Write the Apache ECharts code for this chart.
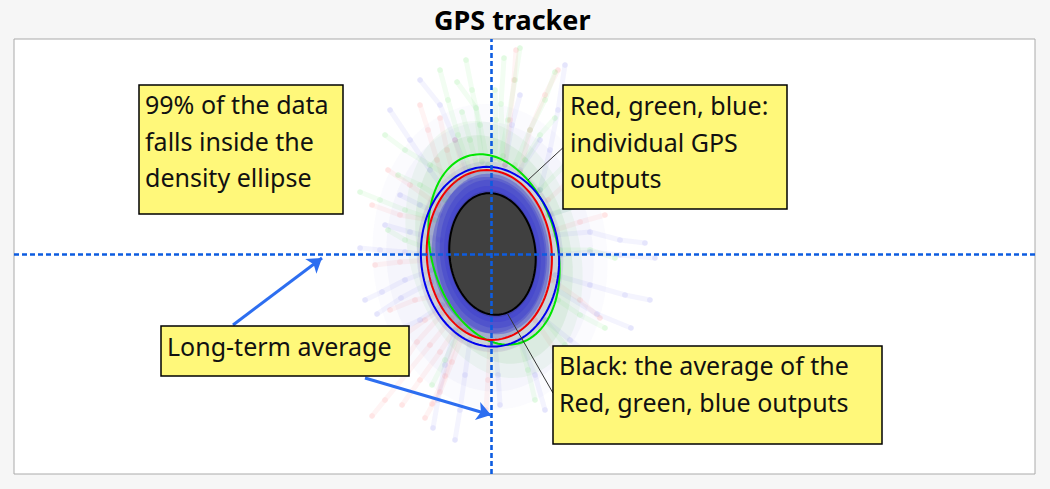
<!DOCTYPE html>
<html><head><meta charset="utf-8">
<script src="https://cdn.jsdelivr.net/npm/echarts@6/dist/echarts.min.js"></script>
<style>html,body{margin:0;padding:0;background:#f6f6f6;} #c{width:1050px;height:489px;}</style>
</head><body><div id="c"></div>
<script>
// ---- data (offsets from the long-term average, arbitrary units) ----
const redTracks = [
  [[-3.9,-6.4],[-6.1,-9.1],[-8.3,-11.8],[-10.6,-14.6],[-11.9,-16.2]],
  [[-3.3,-7.1],[-5.1,-9.8],[-7.1,-12.6],[-8.9,-15.1]],
  [[-4.4,-5.1],[-6.6,-6.6],[-9.1,-8.4],[-11.3,-9.8]],
  [[-2.6,-7.6],[-3.9,-10.8],[-5.1,-13.8],[-6.6,-16.4]],
  [[-5.1,-4.1],[-7.6,-4.6],[-10.1,-5.6]],
  [[-4.4,6.4],[-5.4,9.4],[-6.3,12.4],[-7.1,14.9]],
  [[-3.6,7.4],[-4.4,10.4],[-5.1,13.6]],
  [[-5.3,4.9],[-8.1,6.9],[-10.3,8.4]],
  [[-6.1,3.4],[-9.1,3.9],[-11.9,4.9]],
  [[2.9,8.2],[3.9,12.4],[5.4,15.9],[6.7,18.4]],
  [[1.4,8.9],[1.9,13.4],[2.3,17.4],[2.5,20.4]],
  [[6.4,2.4],[8.9,3.2],[11.4,3.9]],
  [[6.1,-2.6],[8.9,-4.6],[10.9,-6.4]],
  [[4.4,-6.6],[6.4,-9.6],[7.9,-12.1]],
  [[-6.1,-0.6],[-9.1,-0.8],[-11.6,-1.1]],
  [[-2.6,7.9],[-3.6,11.4]],
  [[5.7,5.4],[7.9,7.4],[9.9,9.4]],
  [[-0.1,-9.1],[-0.3,-12.6],[-0.5,-15.6]],
  [[-4.9,-6.0],[-7.4,-8.8],[-9.6,-12.0]],
  [[-3.0,-6.9],[-4.6,-12.2],[-5.9,-15.0]]
];
const greenTracks = [
  [[-0.3,8.9],[-1.1,12.9],[-1.9,16.4],[-2.5,19.4]],
  [[0.9,9.4],[1.7,13.4],[2.4,17.4],[2.9,20.6]],
  [[2.4,8.9],[3.9,12.4],[5.4,15.4],[6.4,18.2]],
  [[-2.1,8.4],[-3.3,11.9],[-4.3,15.4],[-5.1,18.4]],
  [[-3.6,7.4],[-6.1,8.9],[-8.6,10.4],[-10.6,11.9]],
  [[-5.6,3.4],[-8.6,4.4],[-11.1,5.4],[-13.1,6.2]],
  [[-5.9,0.4],[-8.6,1.4],[-10.3,2.4]],
  [[6.7,-4.6],[8.9,-6.1],[11.4,-7.4]],
  [[5.4,-6.6],[7.4,-9.1],[8.9,-11.4]],
  [[2.9,-8.6],[3.7,-11.6],[4.4,-14.6]],
  [[6.9,0.4],[9.9,0.4],[12.4,-0.4]],
  [[4.9,6.4],[7.4,8.9],[9.4,11.4]],
  [[-1.3,8.4],[-2.1,11.4],[-2.9,14.2]],
  [[-3.1,-7.6],[-4.6,-10.6],[-5.9,-13.1]],
  [[5.7,3.9],[8.9,4.9],[11.9,5.9]],
  [[3.4,9.4],[4.9,11.9],[6.4,13.6]],
  [[0.4,9.6],[0.5,13.4],[0.4,16.4]],
  [[-4.6,5.4],[-7.1,6.9],[-9.3,7.9]],
  [[1.2,9.8],[1.0,15.0],[1.3,19.6]],
  [[-0.9,9.2],[-1.5,14.6],[-3.4,17.2]]
];
const blueTracks = [
  [[-6.1,-0.1],[-8.6,0.2],[-11.1,0.4],[-13.1,0.6]],
  [[-5.9,-1.6],[-8.6,-2.6],[-10.9,-3.8],[-12.6,-4.6]],
  [[-5.1,3.9],[-7.1,4.9],[-9.1,5.9]],
  [[-4.3,5.9],[-6.1,8.4],[-8.1,11.4],[-10.1,14.4]],
  [[-2.1,7.4],[-3.6,11.4],[-5.1,14.9],[-7.1,17.4]],
  [[6.9,-0.1],[9.9,0.2],[12.9,-0.1],[16.4,-0.4]],
  [[6.4,-2.1],[9.9,-3.1],[13.4,-4.1],[15.9,-4.6]],
  [[6.4,1.9],[9.9,2.2],[12.9,1.4],[15.4,1.1]],
  [[5.9,3.9],[8.9,4.9],[11.4,5.4]],
  [[4.9,6.4],[5.9,10.4],[6.7,14.4],[7.4,18.9]],
  [[-3.6,-7.6],[-4.6,-11.1],[-5.3,-14.6],[-5.8,-17.4]],
  [[0.4,-9.1],[0.7,-12.1],[0.9,-15.1]],
  [[-2.1,-8.6],[-2.6,-12.1],[-3.1,-15.6],[-3.6,-18.6]],
  [[2.9,-8.6],[4.4,-12.1],[5.4,-15.6]],
  [[5.4,-6.6],[7.9,-8.6],[9.9,-10.1]],
  [[-4.9,-5.1],[-7.1,-6.6],[-9.3,-7.6]],
  [[1.4,8.9],[2.1,12.9],[2.9,15.9]],
  [[-5.1,1.4],[-8.1,2.2],[-10.6,2.9]],
  [[2.9,8.4],[4.9,11.4]],
  [[-6.0,-2.8],[-9.0,-4.4],[-11.4,-6.0]],
  [[6.6,-3.6],[10.6,-6.0],[14.0,-7.4]]
];
// 99% density ellipses: centre, semi-major (vertical), semi-minor, tilt (deg, top leaning left)
const ellipseNames = ['Green','Blue','Red','Black'];
const ellipseCx    = [0.3, -0.1, -0.17, 0.15];
const ellipseCy    = [0.45, -0.27, -0.1, 0];
const ellipseMajor = [9.7, 9.0, 8.5, 6.1];
const ellipseMinor = [6.3, 6.9, 6.25, 4.3];
const ellipseTilt  = [14.5, 4.5, 4, 6];
const longTermAverage = [0, 0];
const arrowStarts = [[-25.8,-7.1], [-12.6,-12.4]];
const arrowEnds   = [[-16.9,-0.4], [0,-16.1]];
const leaderStarts = [[7.17,10.6], [6.2,-13.9]];
const leaderEnds   = [[3.7,7.4], [1.67,-6.0]];
const titleText = 'GPS tracker';
const noteTexts = [
  '99% of the data\nfalls inside the\ndensity ellipse',
  'Red, green, blue:\nindividual GPS\noutputs',
  'Black: the average of the\nRed, green, blue outputs',
  'Long-term average'
];

// ---- styles ----
const trackColors = ['rgb(255,60,60)','rgb(40,215,40)','rgb(60,60,230)'];
const outlineColors = ['#00e600','#0000f0','#f00000','#000000'];
const haloLayers = [
  {e:1, s:1.7,  fill:'rgba(170,170,230,0.05)'},
  {e:1, s:1.5,  fill:'rgba(150,150,225,0.06)'},
  {e:0, s:1.35, fill:'rgba(110,200,110,0.08)'},
  {e:0, s:1.2,  fill:'rgba(90,190,90,0.10)'},
  {e:2, s:1.15, fill:'rgba(210,110,120,0.06)'},
  {e:1, s:1.06, fill:'rgba(110,110,200,0.14)'},
  {e:2, s:0.99, fill:'rgba(80,90,185,0.32)'},
  {e:2, s:0.92, fill:'rgba(62,62,200,0.4)'},
  {e:3, s:1.32, fill:'rgba(58,58,205,0.4)'},
  {e:3, s:1.22, fill:'rgba(58,58,205,0.4)'},
  {e:3, s:1.12, fill:'rgba(58,58,205,0.35)'},
  {e:3, s:1.04, fill:'rgba(60,60,150,0.5)'},
  {e:3, s:1.0,  fill:'#404040'}
];
const boxes = [
  {x:139, y:85,  w:204, h:129, tx:145, ty:86},
  {x:563, y:85,  w:224, h:124, tx:570, ty:87},
  {x:553, y:346, w:329, h:98,  tx:559, ty:347},
  {x:161, y:326, w:248, h:50,  tx:167, ty:328}
];

function ellipseItem(i, s){
  return [ellipseCx[i], ellipseCy[i], ellipseMajor[i]*s, ellipseMinor[i]*s, ellipseTilt[i]];
}
function ellipsePoints(api){
  const cx=api.value(0), cy=api.value(1), A=api.value(2), B=api.value(3), p=api.value(4)*Math.PI/180;
  const pts=[];
  for(let k=0;k<=120;k++){
    const t=k/120*2*Math.PI;
    const x=cx + A*Math.cos(t)*(-Math.sin(p)) + B*Math.sin(t)*Math.cos(p);
    const y=cy + A*Math.cos(t)*Math.cos(p) + B*Math.sin(t)*Math.sin(p);
    pts.push(api.coord([x,y]));
  }
  return pts;
}

const series = [];
[redTracks, greenTracks, blueTracks].forEach((tr, ci)=>{
  series.push({type:'lines', coordinateSystem:'cartesian2d', polyline:true, silent:true,
    data: tr.map(t=>({coords:t})),
    lineStyle:{color:trackColors[ci], width:5, opacity:0.06, cap:'round', join:'round'}});
});
[redTracks, greenTracks, blueTracks].forEach((tr, ci)=>{
  series.push({type:'scatter', silent:true, symbolSize:6,
    data: tr.flat(),
    itemStyle:{color:trackColors[ci], opacity:0.08}});
});
series.push({type:'custom', silent:true, encode:{x:0,y:1},
  data: haloLayers.map(h=>ellipseItem(h.e, h.s)),
  renderItem:(params, api)=>({type:'polygon', shape:{points:ellipsePoints(api)},
    style:{fill:haloLayers[params.dataIndex].fill, stroke:null}})
});
series.push({type:'custom', silent:true, encode:{x:0,y:1},
  data: ellipseNames.map((n,i)=>ellipseItem(i,1)),
  renderItem:(params, api)=>({type:'polygon', shape:{points:ellipsePoints(api)},
    style:{fill:'none', stroke:outlineColors[params.dataIndex], lineWidth:2}})
});
series.push({type:'scatter', silent:true, symbolSize:0, data:[longTermAverage],
  markLine:{silent:true, symbol:'none', label:{show:false}, animation:false,
    lineStyle:{color:'#0d5ce0', width:2.6, type:[5,3], opacity:1},
    data:[{xAxis:longTermAverage[0]},{yAxis:longTermAverage[1]}]}
});
series.push({type:'scatter', silent:true, symbolSize:0, data:[],
  markLine:{silent:true, symbol:['none','arrow'], symbolSize:14, label:{show:false}, animation:false,
    lineStyle:{color:'#2d6ef0', width:3, type:'solid', opacity:1},
    data: arrowStarts.map((s,i)=>[{coord:s},{coord:arrowEnds[i]}])}
});
series.push({type:'scatter', silent:true, symbolSize:0, data:[],
  markLine:{silent:true, symbol:'none', label:{show:false}, animation:false,
    lineStyle:{color:'#333', width:1, type:'solid', opacity:1},
    data: leaderStarts.map((s,i)=>[{coord:s},{coord:leaderEnds[i]}])}
});

const graphic = [];
boxes.forEach((b,i)=>{
  graphic.push({type:'rect', z:100, shape:{x:b.x, y:b.y, width:b.w, height:b.h},
    style:{fill:'#fff87a', stroke:'#000', lineWidth:1.5}});
  graphic.push({type:'text', z:101, x:b.tx, y:b.ty,
    style:{text:noteTexts[i], fill:'#111', font:'25px "Noto Sans"', lineHeight:36.5, verticalAlign:'top'}});
});

const chart = echarts.init(document.getElementById('c'), null, {renderer:'svg'});
chart.setOption({
  animation:false,
  backgroundColor:'#f6f6f6',
  title:{text:titleText, left:429, top:1,
    textStyle:{fontFamily:'Noto Sans', fontWeight:'bold', fontSize:27, color:'#000'}},
  grid:{left:14, right:15, top:39, bottom:15, show:true, backgroundColor:'#fff', borderColor:'#aaa', borderWidth:1},
  xAxis:{type:'value', min:-47.7, max:54.4, show:false},
  yAxis:{type:'value', min:-22.0, max:21.5, show:false},
  series:series,
  graphic:graphic
});
</script></body></html>
